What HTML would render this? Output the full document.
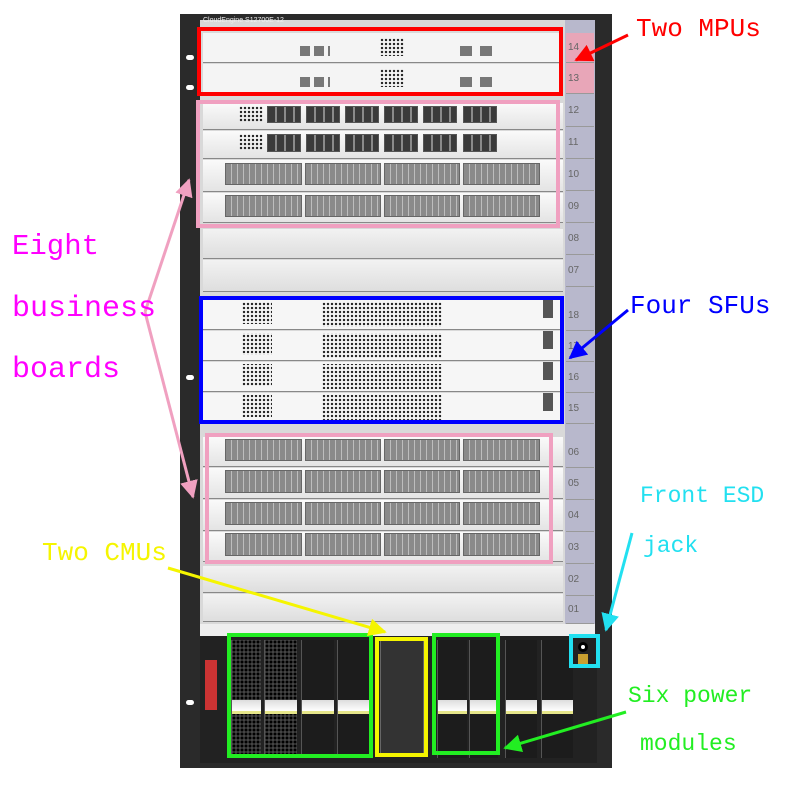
<!DOCTYPE html>
<html><head><meta charset="utf-8"><style>
*{margin:0;padding:0;box-sizing:border-box}
body{width:800px;height:800px;background:#fff;position:relative;overflow:hidden;font-family:"Liberation Mono",monospace}
.a{position:absolute}
.slot{position:absolute;left:203px;width:360px;background:linear-gradient(#fafafa,#e4e4e4);border-bottom:1px solid #888}
.dk{position:absolute;background:repeating-linear-gradient(90deg,#3a3a3a 0 7px,#8a8a8a 7px 9px);border:1px solid #555}
.gp{position:absolute;background:repeating-linear-gradient(90deg,#8a8a8a 0 5px,#bdbdbd 5px 6px);border:1px solid #666}
.dots{position:absolute;background:radial-gradient(circle,#222 1px,transparent 1.4px) 0 0/4px 4px}
.num{position:absolute;left:566px;width:28px;font:10px "Liberation Sans",sans-serif;color:#666;padding-left:2px;border-bottom:1px solid #999}
.pm{position:absolute;top:640px;height:118px;background:#1c1c1c;border-left:1px solid #555}
.pm i{position:absolute;left:0;right:0;top:60px;height:14px;background:linear-gradient(#ddd,#fff);border-bottom:3px solid #e6e68a}
.lbl{position:absolute;white-space:nowrap;line-height:1}
</style></head><body>
<!-- chassis frame -->
<div class="a" style="left:180px;top:14px;width:432px;height:754px;background:#2a2a2a"></div>
<div class="a" style="left:200px;top:20px;width:365px;height:604px;background:#d9d9d9"></div>
<div class="a" style="left:565px;top:20px;width:30px;height:604px;background:#b8b8cc"></div>
<div class="a" style="left:203px;top:17px;font:7px 'Liberation Sans',sans-serif;color:#eee">CloudEngine S12700E-12</div>
<div class="a" style="left:566px;top:33px;width:28px;height:60px;background:#e8a6b8"></div>
<div class="a" style="left:186px;top:55px;width:8px;height:5px;background:#fff;border-radius:3px"></div>
<div class="a" style="left:186px;top:85px;width:8px;height:5px;background:#fff;border-radius:3px"></div>
<div class="a" style="left:186px;top:375px;width:8px;height:5px;background:#fff;border-radius:3px"></div>
<div class="a" style="left:186px;top:700px;width:8px;height:5px;background:#fff;border-radius:3px"></div>

<!-- MPUs -->
<div class="slot" style="top:33px;height:30px;background:#f4f4f4"></div>
<div class="slot" style="top:64px;height:29px;background:#f4f4f4"></div>
<div class="dots" style="left:380px;top:38px;width:24px;height:18px"></div>
<div class="dots" style="left:380px;top:69px;width:24px;height:18px"></div>
<div class="a" style="left:300px;top:46px;width:30px;height:10px;background:repeating-linear-gradient(90deg,#777 0 10px,transparent 10px 14px)"></div>
<div class="a" style="left:300px;top:77px;width:30px;height:10px;background:repeating-linear-gradient(90deg,#777 0 10px,transparent 10px 14px)"></div>
<div class="a" style="left:460px;top:46px;width:40px;height:10px;background:repeating-linear-gradient(90deg,#777 0 12px,transparent 12px 20px)"></div>
<div class="a" style="left:460px;top:77px;width:40px;height:10px;background:repeating-linear-gradient(90deg,#777 0 12px,transparent 12px 20px)"></div>

<!-- slots 12,11 -->
<div class="slot" style="top:103px;height:27px"></div>
<div class="slot" style="top:131px;height:28px"></div>
<div class="dots" style="left:239px;top:106px;width:24px;height:16px"></div>
<div class="dots" style="left:239px;top:134px;width:24px;height:16px"></div>
<div class="dk" style="left:267px;top:106px;width:34px;height:17px"></div><div class="dk" style="left:306px;top:106px;width:34px;height:17px"></div><div class="dk" style="left:345px;top:106px;width:34px;height:17px"></div><div class="dk" style="left:384px;top:106px;width:34px;height:17px"></div><div class="dk" style="left:423px;top:106px;width:34px;height:17px"></div><div class="dk" style="left:463px;top:106px;width:34px;height:17px"></div>
<div class="dk" style="left:267px;top:134px;width:34px;height:18px"></div><div class="dk" style="left:306px;top:134px;width:34px;height:18px"></div><div class="dk" style="left:345px;top:134px;width:34px;height:18px"></div><div class="dk" style="left:384px;top:134px;width:34px;height:18px"></div><div class="dk" style="left:423px;top:134px;width:34px;height:18px"></div><div class="dk" style="left:463px;top:134px;width:34px;height:18px"></div>
<!-- slots 10,09 -->
<div class="slot" style="top:160px;height:32px"></div>
<div class="slot" style="top:193px;height:30px"></div>
<div class="gp" style="left:225px;top:163px;width:77px;height:22px"></div><div class="gp" style="left:305px;top:163px;width:76px;height:22px"></div><div class="gp" style="left:384px;top:163px;width:76px;height:22px"></div><div class="gp" style="left:463px;top:163px;width:77px;height:22px"></div>
<div class="gp" style="left:225px;top:195px;width:77px;height:22px"></div><div class="gp" style="left:305px;top:195px;width:76px;height:22px"></div><div class="gp" style="left:384px;top:195px;width:76px;height:22px"></div><div class="gp" style="left:463px;top:195px;width:77px;height:22px"></div>
<!-- 08,07 -->
<div class="slot" style="top:229px;height:30px;background:linear-gradient(#f2f2f2,#dedede)"></div>
<div class="slot" style="top:260px;height:32px;background:linear-gradient(#f2f2f2,#dedede)"></div>
<!-- SFUs -->
<div class="slot" style="top:300px;height:30px;background:#f6f6f6"></div>
<div class="slot" style="top:331px;height:30px;background:#f6f6f6"></div>
<div class="slot" style="top:362px;height:30px;background:#f6f6f6"></div>
<div class="slot" style="top:393px;height:29px;background:#f6f6f6"></div>
<div class="dots" style="left:242px;top:302px;width:30px;height:120px;-webkit-mask:repeating-linear-gradient(#000 0 22px,transparent 22px 31px);mask:repeating-linear-gradient(#000 0 22px,transparent 22px 31px)"></div>
<div class="dots" style="left:322px;top:302px;width:120px;height:120px;-webkit-mask:repeating-linear-gradient(#000 0 25px,transparent 25px 31px);mask:repeating-linear-gradient(#000 0 25px,transparent 25px 31px)"></div>
<div class="a" style="left:543px;top:300px;width:10px;height:122px;background:repeating-linear-gradient(#555 0 18px,transparent 18px 31px)"></div>
<!-- 06-03 -->
<div class="slot" style="top:437px;height:30px"></div>
<div class="slot" style="top:468px;height:31px"></div>
<div class="slot" style="top:500px;height:31px"></div>
<div class="slot" style="top:532px;height:30px"></div>
<div class="gp" style="left:225px;top:439px;width:77px;height:22px"></div><div class="gp" style="left:305px;top:439px;width:76px;height:22px"></div><div class="gp" style="left:384px;top:439px;width:76px;height:22px"></div><div class="gp" style="left:463px;top:439px;width:77px;height:22px"></div>
<div class="gp" style="left:225px;top:470px;width:77px;height:23px"></div><div class="gp" style="left:305px;top:470px;width:76px;height:23px"></div><div class="gp" style="left:384px;top:470px;width:76px;height:23px"></div><div class="gp" style="left:463px;top:470px;width:77px;height:23px"></div>
<div class="gp" style="left:225px;top:502px;width:77px;height:23px"></div><div class="gp" style="left:305px;top:502px;width:76px;height:23px"></div><div class="gp" style="left:384px;top:502px;width:76px;height:23px"></div><div class="gp" style="left:463px;top:502px;width:77px;height:23px"></div>
<div class="gp" style="left:225px;top:533px;width:77px;height:23px"></div><div class="gp" style="left:305px;top:533px;width:76px;height:23px"></div><div class="gp" style="left:384px;top:533px;width:76px;height:23px"></div><div class="gp" style="left:463px;top:533px;width:77px;height:23px"></div>
<!-- 02,01 -->
<div class="slot" style="top:566px;height:27px;background:linear-gradient(#f2f2f2,#dedede)"></div>
<div class="slot" style="top:594px;height:28px;background:linear-gradient(#f2f2f2,#dedede)"></div>

<!-- slot numbers -->
<div class="num" style="top:33px;height:30px;padding-top:9px">14</div>
<div class="num" style="top:64px;height:30px;padding-top:9px">13</div>
<div class="num" style="top:95px;height:32px;padding-top:10px">12</div>
<div class="num" style="top:127px;height:32px;padding-top:10px">11</div>
<div class="num" style="top:159px;height:32px;padding-top:10px">10</div>
<div class="num" style="top:191px;height:32px;padding-top:10px">09</div>
<div class="num" style="top:223px;height:32px;padding-top:10px">08</div>
<div class="num" style="top:255px;height:32px;padding-top:10px">07</div>
<div class="num" style="top:300px;height:31px;padding-top:10px">18</div>
<div class="num" style="top:331px;height:31px;padding-top:10px">17</div>
<div class="num" style="top:362px;height:31px;padding-top:10px">16</div>
<div class="num" style="top:393px;height:31px;padding-top:10px">15</div>
<div class="num" style="top:437px;height:31px;padding-top:10px">06</div>
<div class="num" style="top:468px;height:32px;padding-top:10px">05</div>
<div class="num" style="top:500px;height:32px;padding-top:10px">04</div>
<div class="num" style="top:532px;height:32px;padding-top:10px">03</div>
<div class="num" style="top:564px;height:32px;padding-top:10px">02</div>
<div class="num" style="top:596px;height:28px;padding-top:8px">01</div>

<!-- power area -->
<div class="a" style="left:200px;top:624px;width:395px;height:12px;background:#eee"></div>
<div class="a" style="left:200px;top:636px;width:397px;height:127px;background:#222"></div>
<div class="a" style="left:205px;top:660px;width:12px;height:50px;background:#c33"></div>
<div class="pm" style="left:231px;width:30px;background:radial-gradient(circle,#000 1.3px,#444 1.6px) 0 0/4px 4px"><i></i></div>
<div class="pm" style="left:264px;width:33px;background:radial-gradient(circle,#000 1.3px,#444 1.6px) 0 0/4px 4px"><i></i></div>
<div class="pm" style="left:301px;width:33px"><i></i></div>
<div class="pm" style="left:337px;width:33px"><i></i></div>
<div class="a" style="left:380px;top:640px;width:44px;height:114px;background:#333;border:1px solid #666"></div>
<div class="pm" style="left:437px;width:30px"><i></i></div>
<div class="pm" style="left:469px;width:29px"><i></i></div>
<div class="pm" style="left:505px;width:32px"><i></i></div>
<div class="pm" style="left:541px;width:32px"><i></i></div>
<div class="a" style="left:578px;top:642px;width:10px;height:10px;border-radius:50%;background:#fff;border:3px solid #000"></div>
<div class="a" style="left:578px;top:654px;width:10px;height:10px;background:#c9a030"></div>

<!-- highlight boxes -->
<div class="a" style="left:197px;top:27px;width:366px;height:69px;border:4px solid #f00"></div>
<div class="a" style="left:196px;top:100px;width:364px;height:128px;border:4px solid #f0a0c0"></div>
<div class="a" style="left:199px;top:296px;width:365px;height:128px;border:4px solid #00f"></div>
<div class="a" style="left:205px;top:433px;width:348px;height:131px;border:4px solid #f0a0c0"></div>
<div class="a" style="left:227px;top:633px;width:146px;height:125px;border:4px solid #22ee22"></div>
<div class="a" style="left:375px;top:637px;width:53px;height:120px;border:4px solid #f5f500"></div>
<div class="a" style="left:432px;top:633px;width:68px;height:122px;border:4px solid #22ee22"></div>
<div class="a" style="left:569px;top:634px;width:31px;height:34px;border:4px solid #22e0f0"></div>

<svg class="a" style="left:0;top:0" width="800" height="800">
<defs>
<marker id="r" viewBox="0 0 10 10" refX="9" refY="5" markerWidth="6" markerHeight="6" orient="auto"><path d="M0 0L10 5L0 10z" fill="#f00"/></marker>
<marker id="p" viewBox="0 0 10 10" refX="9" refY="5" markerWidth="6" markerHeight="6" orient="auto"><path d="M0 0L10 5L0 10z" fill="#f0a0c0"/></marker>
<marker id="b" viewBox="0 0 10 10" refX="9" refY="5" markerWidth="6" markerHeight="6" orient="auto"><path d="M0 0L10 5L0 10z" fill="#00f"/></marker>
<marker id="c" viewBox="0 0 10 10" refX="9" refY="5" markerWidth="6" markerHeight="6" orient="auto"><path d="M0 0L10 5L0 10z" fill="#22e0f0"/></marker>
<marker id="y" viewBox="0 0 10 10" refX="9" refY="5" markerWidth="6" markerHeight="6" orient="auto"><path d="M0 0L10 5L0 10z" fill="#f5f500"/></marker>
<marker id="g" viewBox="0 0 10 10" refX="9" refY="5" markerWidth="6" markerHeight="6" orient="auto"><path d="M0 0L10 5L0 10z" fill="#22ee22"/></marker>
</defs>
<line x1="628" y1="35" x2="576" y2="60" stroke="#f00" stroke-width="3" marker-end="url(#r)"/>
<line x1="145" y1="312" x2="189" y2="180" stroke="#f0a0c0" stroke-width="3" marker-end="url(#p)"/>
<line x1="145" y1="312" x2="193" y2="497" stroke="#f0a0c0" stroke-width="3" marker-end="url(#p)"/>
<line x1="628" y1="310" x2="570" y2="358" stroke="#00f" stroke-width="3" marker-end="url(#b)"/>
<line x1="632" y1="533" x2="606" y2="630" stroke="#22e0f0" stroke-width="3" marker-end="url(#c)"/>
<line x1="168" y1="568" x2="385" y2="632" stroke="#f5f500" stroke-width="3" marker-end="url(#y)"/>
<line x1="626" y1="712" x2="505" y2="748" stroke="#22ee22" stroke-width="3" marker-end="url(#g)"/>
</svg>

<div class="lbl" style="left:636px;top:16px;font-size:26px;color:#f00">Two MPUs</div>
<div class="lbl" style="left:12px;top:232px;font-size:29px;color:#f0f">Eight</div>
<div class="lbl" style="left:12px;top:294px;font-size:30px;color:#f0f">business</div>
<div class="lbl" style="left:12px;top:355px;font-size:30px;color:#f0f">boards</div>
<div class="lbl" style="left:630px;top:293px;font-size:26px;color:#00f">Four SFUs</div>
<div class="lbl" style="left:640px;top:485px;font-size:23px;color:#22e0f0">Front ESD</div>
<div class="lbl" style="left:643px;top:535px;font-size:23px;color:#22e0f0">jack</div>
<div class="lbl" style="left:42px;top:540px;font-size:26px;color:#f5f500">Two CMUs</div>
<div class="lbl" style="left:628px;top:685px;font-size:23px;color:#22ee22">Six power</div>
<div class="lbl" style="left:640px;top:733px;font-size:23px;color:#22ee22">modules</div>
</body></html>
